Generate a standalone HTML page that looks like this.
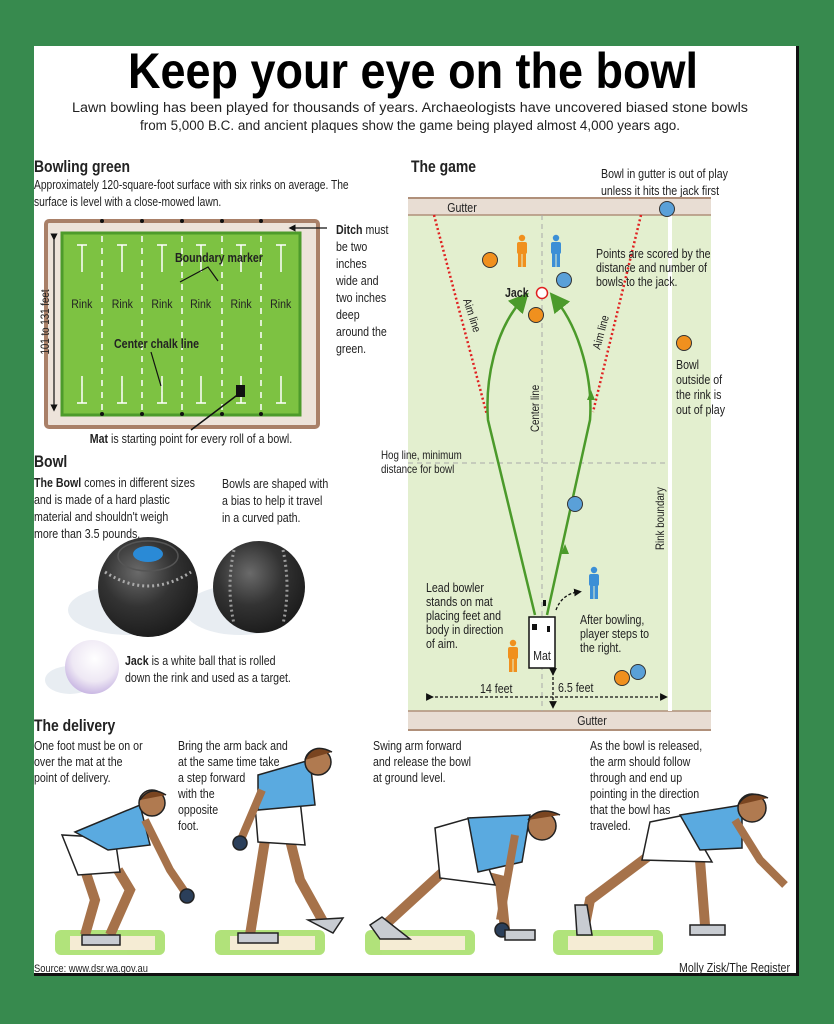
<!DOCTYPE html>
<html><head><meta charset="utf-8"><style>
html,body{margin:0;padding:0;background:#378a4e;}
svg{display:block}
text{font-family:"Liberation Sans Narrow","Liberation Sans",sans-serif;fill:#222;}
.b{font-weight:bold}
</style></head><body>
<svg width="834" height="1024" viewBox="0 0 834 1024" xmlns="http://www.w3.org/2000/svg">
<defs>
<radialGradient id="bg1" cx="0.4" cy="0.35" r="0.7"><stop offset="0" stop-color="#6a6a6a"/><stop offset="0.5" stop-color="#333"/><stop offset="1" stop-color="#1a1a1a"/></radialGradient>
<radialGradient id="jk" cx="0.55" cy="0.35" r="0.7"><stop offset="0" stop-color="#fff"/><stop offset="0.6" stop-color="#eee8f4"/><stop offset="1" stop-color="#c2aee0"/></radialGradient>
<marker id="ga" markerWidth="8" markerHeight="8" refX="4" refY="4" orient="auto"><path d="M0,0 L8,4 L0,8 z" fill="#4b9a2a"/></marker>
<marker id="ka" markerWidth="6" markerHeight="6" refX="3" refY="3" orient="auto"><path d="M0,0 L6,3 L0,6 z" fill="#111"/></marker>
<g id="fig"><circle cx="0" cy="-12" r="3.2"/><rect x="-5" y="-8" width="10" height="12" rx="2"/><rect x="-4" y="3" width="3.5" height="14"/><rect x="0.5" y="3" width="3.5" height="14"/></g>
</defs>
<rect x="34" y="46" width="765" height="930" fill="#111"/>
<rect x="34" y="46" width="762" height="927" fill="#fff"/>

<text x="413" y="88" text-anchor="middle" class="b" font-size="50" textLength="570" lengthAdjust="spacingAndGlyphs" style="fill:#000">Keep your eye on the bowl</text>
<text x="410" y="112" text-anchor="middle" font-size="13.5" textLength="676" lengthAdjust="spacingAndGlyphs">Lawn bowling has been played for thousands of years. Archaeologists have uncovered biased stone bowls</text>
<text x="410" y="130" text-anchor="middle" font-size="13.5" textLength="540" lengthAdjust="spacingAndGlyphs">from 5,000 B.C. and ancient plaques show the game being played almost 4,000 years ago.</text>

<!-- Bowling green -->
<g transform="translate(34,0) scale(0.82,1)"><text x="0" y="172" class="b" font-size="17">Bowling green</text>
<text x="0" y="189" font-size="12.5">Approximately 120-square-foot surface with six rinks on average. The</text>
<text x="0" y="206" font-size="12.5">surface is level with a close-mowed lawn.</text></g>
<rect x="46" y="221" width="272" height="206" rx="3" fill="#ede3da" stroke="#a98068" stroke-width="4"/>
<rect x="62" y="233" width="238" height="182" fill="#7dc242" stroke="#4d9b2b" stroke-width="3"/>
<g stroke="#fff" stroke-width="1.5" stroke-dasharray="6,6">
<line x1="102" y1="236" x2="102" y2="413"/><line x1="142" y1="236" x2="142" y2="413"/><line x1="182" y1="236" x2="182" y2="413"/><line x1="222" y1="236" x2="222" y2="413"/><line x1="261" y1="236" x2="261" y2="413"/>
</g>
<g fill="#111"><circle cx="102" cy="221" r="2"/><circle cx="142" cy="221" r="2"/><circle cx="182" cy="221" r="2"/><circle cx="222" cy="221" r="2"/><circle cx="261" cy="221" r="2"/>
<circle cx="102" cy="414" r="2"/><circle cx="142" cy="414" r="2"/><circle cx="182" cy="414" r="2"/><circle cx="222" cy="414" r="2"/><circle cx="261" cy="414" r="2"/></g>
<g stroke="#fff" stroke-width="1.5" fill="none">
<path d="M77,245h10M82,245v27M117,245h10M122,245v27M157,245h10M162,245v27M196,245h10M201,245v27M236,245h10M241,245v27M276,245h10M281,245v27"/>
<path d="M77,403h10M82,403v-27M117,403h10M122,403v-27M157,403h10M162,403v-27M196,403h10M201,403v-27M236,403h10M241,403v-27M276,403h10M281,403v-27"/>
</g>
<g font-size="12" text-anchor="middle" transform="scale(0.88,1)"><text x="93" y="308">Rink</text><text x="139" y="308">Rink</text><text x="184" y="308">Rink</text><text x="228" y="308">Rink</text><text x="274" y="308">Rink</text><text x="319" y="308">Rink</text></g>
<g transform="translate(175,0) scale(0.85,1)"><text x="0" y="262" class="b" font-size="12.5">Boundary marker</text></g>
<path d="M180,282 L208,267 L218,281" stroke="#111" stroke-width="1.2" fill="none"/>
<g transform="translate(114,0) scale(0.85,1)"><text x="0" y="348" class="b" font-size="12.5">Center chalk line</text></g>
<line x1="151" y1="352" x2="161" y2="386" stroke="#111" stroke-width="1.2"/>
<rect x="236" y="385" width="9" height="12" fill="#111"/>
<line x1="240" y1="393" x2="191" y2="430" stroke="#111" stroke-width="1.5"/>
<line x1="54" y1="237" x2="54" y2="408" stroke="#111" stroke-width="1.2" marker-start="url(#ka)" marker-end="url(#ka)"/>
<text transform="translate(49,322) rotate(-90) scale(0.85,1)" text-anchor="middle" font-size="11.5">101 to 131 feet</text>
<line x1="327" y1="228" x2="292" y2="228" stroke="#111" stroke-width="1.2" marker-end="url(#ka)"/>
<g font-size="12.5" transform="translate(336,0) scale(0.85,1)"><text x="0" y="234"><tspan class="b">Ditch</tspan> must</text><text x="0" y="251">be two</text><text x="0" y="268">inches</text><text x="0" y="285">wide and</text><text x="0" y="302">two inches</text><text x="0" y="319">deep</text><text x="0" y="336">around the</text><text x="0" y="353">green.</text></g>
<g transform="translate(191,0) scale(0.85,1)"><text x="0" y="443" text-anchor="middle" font-size="12.5"><tspan class="b">Mat</tspan> is starting point for every roll of a bowl.</text></g>

<!-- Bowl -->
<g transform="translate(34,0) scale(0.82,1)"><text x="0" y="467" class="b" font-size="17">Bowl</text></g>
<g font-size="12.5" transform="translate(34,0) scale(0.85,1)"><text x="0" y="487"><tspan class="b">The Bowl</tspan> comes in different sizes</text><text x="0" y="504">and is made of a hard plastic</text><text x="0" y="521">material and shouldn't weigh</text><text x="0" y="538">more than 3.5 pounds.</text></g>
<g font-size="12.5" transform="translate(222,0) scale(0.85,1)"><text x="0" y="488">Bowls are shaped with</text><text x="0" y="505">a bias to help it travel</text><text x="0" y="522">in a curved path.</text></g>
<ellipse cx="130" cy="610" rx="62" ry="25" fill="#e8edf2"/>
<ellipse cx="240" cy="610" rx="55" ry="25" fill="#e8edf2"/>
<circle cx="148" cy="587" r="50" fill="url(#bg1)"/>
<ellipse cx="148" cy="556" rx="30" ry="15" fill="none" stroke="#555" stroke-width="1.5"/>
<ellipse cx="148" cy="554" rx="15" ry="8" fill="#2a8ad6"/>
<path d="M105,572 Q148,600 191,572" stroke="#aaa" stroke-width="3" stroke-dasharray="2,3" fill="none"/>
<circle cx="259" cy="587" r="46" fill="url(#bg1)"/>
<path d="M234,550 Q226,587 234,624 M283,550 Q291,587 283,624" stroke="#999" stroke-width="3" stroke-dasharray="2,3" fill="none"/>
<ellipse cx="70" cy="680" rx="25" ry="14" fill="#e8edf2"/>
<circle cx="92" cy="667" r="27" fill="url(#jk)"/>
<g font-size="12.5" transform="translate(125,0) scale(0.85,1)"><text x="0" y="665"><tspan class="b">Jack</tspan> is a white ball that is rolled</text><text x="0" y="682">down the rink and used as a target.</text></g>

<!-- The game -->
<g transform="translate(411,0) scale(0.82,1)"><text x="0" y="172" class="b" font-size="17">The game</text></g>
<g font-size="12.5" transform="translate(601,0) scale(0.85,1)"><text x="0" y="178">Bowl in gutter is out of play</text><text x="0" y="195">unless it hits the jack first</text></g>
<rect x="408" y="215" width="303" height="496" fill="#e3efcf"/>
<rect x="408" y="198" width="303" height="17" fill="#e8ddd3"/>
<line x1="408" y1="198" x2="711" y2="198" stroke="#b0907a" stroke-width="2"/><line x1="408" y1="215" x2="711" y2="215" stroke="#b0907a" stroke-width="1.5"/>
<rect x="408" y="711" width="303" height="19" fill="#e8ddd3"/>
<line x1="408" y1="711" x2="711" y2="711" stroke="#b0907a" stroke-width="1.5"/><line x1="408" y1="730" x2="711" y2="730" stroke="#b0907a" stroke-width="2"/>
<text transform="translate(462,212) scale(0.85,1)" text-anchor="middle" font-size="12.5">Gutter</text>
<text transform="translate(592,725) scale(0.85,1)" text-anchor="middle" font-size="12.5">Gutter</text>
<rect x="668" y="215" width="4" height="496" fill="#fff"/>
<line x1="542" y1="215" x2="542" y2="711" stroke="#aaa" stroke-width="1" stroke-dasharray="5,4"/>
<line x1="408" y1="463" x2="668" y2="463" stroke="#aaa" stroke-width="1" stroke-dasharray="5,4"/>
<g stroke="#e02020" stroke-width="2.5" stroke-dasharray="2,2.5"><line x1="434" y1="215" x2="487" y2="415"/><line x1="641" y1="215" x2="593" y2="412"/></g>
<g stroke="#4b9a2a" stroke-width="2.5" fill="none">
<path d="M535,615 L488,420 C485,380 495,330 522,300" marker-end="url(#ga)"/>
<path d="M547,615 L590,420 C593,380 580,330 556,300" marker-end="url(#ga)"/>
</g>
<path d="M565,544 l-4,10 h8z M591,390 l-4,10 h8z" fill="#4b9a2a"/>
<text transform="translate(463,300) rotate(72) scale(0.85,1)" font-size="11.5">Aim line</text>
<text transform="translate(600,350) rotate(-75) scale(0.85,1)" font-size="11.5">Aim line</text>
<text transform="translate(539,432) rotate(-90) scale(0.85,1)" font-size="11.5">Center line</text>
<text transform="translate(664,550) rotate(-90) scale(0.85,1)" font-size="11.5">Rink boundary</text>
<text transform="translate(505,297) scale(0.85,1)" class="b" font-size="12.5">Jack</text>
<circle cx="542" cy="293" r="5.5" fill="#fff" stroke="#e02020" stroke-width="1.5"/>
<g stroke="#333" stroke-width="1"><g fill="#f0901e"><circle cx="490" cy="260" r="7.5"/><circle cx="536" cy="315" r="7.5"/><circle cx="684" cy="343" r="7.5"/><circle cx="622" cy="678" r="7.5"/></g>
<g fill="#5aa0d8"><circle cx="667" cy="209" r="7.5"/><circle cx="564" cy="280" r="7.5"/><circle cx="575" cy="504" r="7.5"/><circle cx="638" cy="672" r="7.5"/></g></g>
<use href="#fig" x="522" y="250" fill="#f0901e"/>
<use href="#fig" x="556" y="250" fill="#3c8fd6"/>
<use href="#fig" x="594" y="582" fill="#3c8fd6"/>
<use href="#fig" x="513" y="655" fill="#f0901e"/>
<g font-size="12.5" transform="translate(596,0) scale(0.85,1)"><text x="0" y="258">Points are scored by the</text><text x="0" y="272">distance and number of</text><text x="0" y="286">bowls to the jack.</text></g>
<g font-size="12.5" transform="translate(676,0) scale(0.85,1)"><text x="0" y="369">Bowl</text><text x="0" y="384">outside of</text><text x="0" y="399">the rink is</text><text x="0" y="414">out of play</text></g>
<g font-size="11.5" transform="translate(381,0) scale(0.85,1)"><text x="0" y="459">Hog line, minimum</text><text x="0" y="473">distance for bowl</text></g>
<g font-size="12.5" transform="translate(426,0) scale(0.85,1)"><text x="0" y="592">Lead bowler</text><text x="0" y="606">stands on mat</text><text x="0" y="620">placing feet and</text><text x="0" y="634">body in direction</text><text x="0" y="648">of aim.</text></g>
<g font-size="12.5" transform="translate(580,0) scale(0.85,1)"><text x="0" y="624">After bowling,</text><text x="0" y="638">player steps to</text><text x="0" y="652">the right.</text></g>
<rect x="529" y="617" width="26" height="51" fill="#fff" stroke="#111" stroke-width="1.5"/>
<text transform="translate(542,660) scale(0.85,1)" text-anchor="middle" font-size="12.5">Mat</text>
<rect x="532" y="624" width="5" height="6" fill="#111"/><rect x="547" y="626" width="3" height="6" fill="#111"/><rect x="543" y="600" width="3" height="6" fill="#111"/>
<path d="M556,610 Q562,594 578,592" stroke="#111" stroke-width="1.3" stroke-dasharray="3,2" fill="none" marker-end="url(#ka)"/>
<line x1="430" y1="697" x2="664" y2="697" stroke="#111" stroke-width="1.3" stroke-dasharray="3,2" marker-start="url(#ka)" marker-end="url(#ka)"/>
<line x1="553" y1="672" x2="553" y2="705" stroke="#111" stroke-width="1.3" stroke-dasharray="3,2" marker-start="url(#ka)" marker-end="url(#ka)"/>
<text transform="translate(480,693) scale(0.85,1)" font-size="12.5">14 feet</text><text transform="translate(558,692) scale(0.85,1)" font-size="12.5">6.5 feet</text>

<!-- Delivery -->
<g transform="translate(34,0) scale(0.82,1)"><text x="0" y="731" class="b" font-size="17">The delivery</text></g>
<g font-size="12.5" transform="translate(34,0) scale(0.85,1)"><text x="0" y="750">One foot must be on or</text><text x="0" y="766">over the mat at the</text><text x="0" y="782">point of delivery.</text></g>
<g font-size="12.5" transform="translate(178,0) scale(0.85,1)"><text x="0" y="750">Bring the arm back and</text><text x="0" y="766">at the same time take</text><text x="0" y="782">a step forward</text><text x="0" y="798">with the</text><text x="0" y="814">opposite</text><text x="0" y="830">foot.</text></g>
<g font-size="12.5" transform="translate(373,0) scale(0.85,1)"><text x="0" y="750">Swing arm forward</text><text x="0" y="766">and release the bowl</text><text x="0" y="782">at ground level.</text></g>
<g font-size="12.5" transform="translate(590,0) scale(0.85,1)"><text x="0" y="750">As the bowl is released,</text><text x="0" y="766">the arm should follow</text><text x="0" y="782">through and end up</text><text x="0" y="798">pointing in the direction</text><text x="0" y="814">that the bowl has</text><text x="0" y="830">traveled.</text></g>
<g fill="#9edc5a" opacity="0.8"><rect x="55" y="930" width="110" height="25" rx="6"/><rect x="215" y="930" width="110" height="25" rx="6"/><rect x="365" y="930" width="110" height="25" rx="6"/><rect x="553" y="930" width="110" height="25" rx="6"/></g>
<g fill="#f5ecd4"><rect x="70" y="936" width="85" height="14"/><rect x="230" y="936" width="85" height="14"/><rect x="380" y="936" width="85" height="14"/><rect x="568" y="936" width="85" height="14"/></g>
<g stroke="#222" stroke-width="1.5">
<!-- figure 1 -->
<path d="M85,870 L95,900 L85,935 M118,870 L130,890 L110,935" stroke="#a6724a" stroke-width="10" fill="none"/>
<path d="M62,835 L78,875 L120,872 L115,838z" fill="#fff"/>
<path d="M75,832 L140,805 L150,845 L108,850z" fill="#5aaae0"/>
<path d="M145,820 L170,870 L185,892" stroke="#a6724a" stroke-width="8" fill="none"/>
<circle cx="152" cy="803" r="13" fill="#b07a50"/><path d="M140,800 Q150,785 166,795" fill="#7a4520"/>
<circle cx="187" cy="896" r="7" fill="#2b3f5a"/>
<path d="M82,935 h38 v10 h-38z" fill="#c8ccd2"/>
<!-- figure 2 -->
<path d="M265,840 L250,935 M290,840 L300,880 L325,925" stroke="#a6724a" stroke-width="10" fill="none"/>
<path d="M255,805 L300,800 L305,845 L258,842z" fill="#fff"/>
<path d="M258,775 L310,760 L315,805 L258,810z" fill="#5aaae0"/>
<path d="M262,790 L245,830 L240,842" stroke="#a6724a" stroke-width="8" fill="none"/>
<circle cx="318" cy="762" r="13" fill="#b07a50"/><path d="M305,760 Q312,742 332,752" fill="#7a4520"/>
<circle cx="240" cy="843" r="7" fill="#2b3f5a"/>
<path d="M238,933 h40 v10 h-40z M308,920 l35,-2 l-10,15 z" fill="#c8ccd2"/>
<!-- figure 3 -->
<path d="M445,870 L385,925 M480,875 L500,880 L505,930" stroke="#a6724a" stroke-width="10" fill="none"/>
<path d="M435,828 L470,818 L495,885 L440,878z" fill="#fff"/>
<path d="M468,818 L530,815 L522,862 L478,872z" fill="#5aaae0"/>
<path d="M515,835 L500,920" stroke="#a6724a" stroke-width="8" fill="none"/>
<circle cx="542" cy="826" r="14" fill="#b07a50"/><path d="M528,820 Q540,805 560,815" fill="#7a4520"/>
<circle cx="502" cy="930" r="7" fill="#2b3f5a"/>
<path d="M370,925 l12,-8 l28,22 h-30z M505,930 h30 v10 h-30z" fill="#c8ccd2"/>
<!-- figure 4 -->
<path d="M650,855 L590,900 L585,925 M700,860 L705,925" stroke="#a6724a" stroke-width="10" fill="none"/>
<path d="M650,822 L685,815 L712,862 L642,860z" fill="#fff"/>
<path d="M680,815 L742,805 L742,848 L700,850z" fill="#5aaae0"/>
<path d="M735,820 L760,860 L785,885" stroke="#a6724a" stroke-width="8" fill="none"/>
<circle cx="752" cy="808" r="14" fill="#b07a50"/><path d="M738,805 Q748,788 768,798" fill="#7a4520"/>
<path d="M575,905 l12,0 l5,30 h-15z M690,925 h35 v10 h-35z" fill="#c8ccd2"/>
</g>
<text transform="translate(34,972) scale(0.85,1)" font-size="11">Source: www.dsr.wa.gov.au</text>
<text transform="translate(790,972) scale(0.85,1)" text-anchor="end" font-size="12.5">Molly Zisk/The Register</text>
</svg>
</body></html>
